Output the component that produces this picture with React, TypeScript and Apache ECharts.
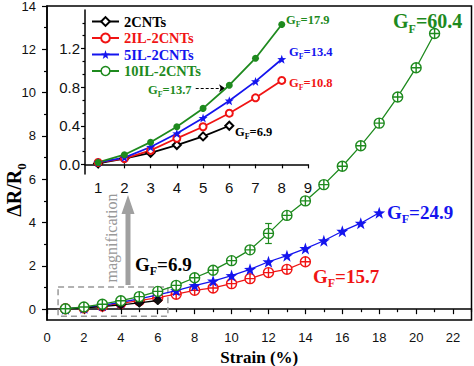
import React, { useEffect, useRef } from "react";
import * as echarts from "echarts";

// ---------- data ----------
const strain = [1, 2, 3, 4, 5, 6, 7, 8, 9, 10, 11, 12, 13, 14, 15, 16, 17, 18, 19, 20, 21];
const seriesNames = ["2CNTs", "2IL-2CNTs", "5IL-2CNTs", "10IL-2CNTs"];
const cnt2 = [0.01, 0.06, 0.12, 0.2, 0.29, 0.4];
const il2 = [0.02, 0.06, 0.145, 0.27, 0.39, 0.53, 0.69, 0.87, 0.98, 1.18, 1.41, 1.69, 1.84, 2.19];
const il5 = [0.02, 0.07, 0.18, 0.32, 0.48, 0.66, 0.86, 1.09, 1.3, 1.55, 1.84, 2.19, 2.47, 2.8, 3.16, 3.6, 3.97, 4.45];
const il10 = [0.02, 0.1, 0.23, 0.39, 0.58, 0.82, 1.1, 1.45, 1.8, 2.24, 2.74, 3.5, 4.33, 5.0, 5.75, 6.6, 7.55, 8.59, 9.8, 11.15, 12.73];
const insetMaxStrain = 8;
// error bar on 10IL-2CNTs at 12 %
const errStrain = [12];
const errLow = [3.05];
const errHigh = [3.95];

// tick values
const xMainMajor = [0, 2, 4, 6, 8, 10, 12, 14, 16, 18, 20, 22];
const xMainMinor = [1, 3, 5, 7, 9, 11, 13, 15, 17, 19, 21, 23];
const yMainMajor = [0, 2, 4, 6, 8, 10, 12, 14];
const yMainMinor = [1, 3, 5, 7, 9, 11, 13];
const xInsetMajor = [1, 2, 3, 4, 5, 6, 7, 8, 9];
const yInsetMajor = [0, 0.4, 0.8, 1.2];
const yInsetMinor = [0.1333, 0.2667, 0.5333, 0.6667, 0.9333, 1.0667, 1.3333, 1.4667];

// gauge factor labels
const gfMain = ["6.9", "15.7", "24.9", "60.4"];
const gfInset = ["6.9", "10.8", "13.4", "17.9", "13.7"];

const COLORS = ["#000000", "#f01414", "#1414ee", "#1e8a1e"];
const SERIF = "'Liberation Serif', 'Times New Roman', serif";
const SANS = "'Liberation Sans', Arial, sans-serif";

const STAR = "path://M0,-10 L2.35,-3.24 L9.51,-3.09 L3.8,1.24 L5.88,8.09 L0,4 L-5.88,8.09 L-3.8,1.24 L-9.51,-3.09 L-2.35,-3.24 Z";
const CIRCLE_PLUS = "path://M10,0 A10,10 0 1,1 -10,0 A10,10 0 1,1 10,0 Z M0,-10 L0,10 M-10,0 L10,0";

const pairs = (vals: number[], maxX = Infinity) =>
  vals.map((v, i) => [strain[i], v]).filter((p) => p[0] <= maxX);

function gfText(x: number, y: number, val: string, color: string, size: number) {
  return {
    type: "text",
    x,
    y,
    z: 100,
    style: {
      text: `{g|G}{s|F}{g|=${val}}`,
      align: "left",
      verticalAlign: "middle",
      rich: {
        g: { fontSize: size, fontFamily: SERIF, fontWeight: "bold", fill: color },
        s: { fontSize: Math.round(size * 0.62), fontFamily: SERIF, fontWeight: "bold", fill: color, padding: [Math.round(size * 0.75), 0, 0, 0] },
      },
    },
  };
}

export default function App() {
  const ref = useRef<HTMLDivElement>(null);
  useEffect(() => {
    if (!ref.current) return;
    const chart = echarts.init(ref.current, undefined, { renderer: "svg" });
    const axisLine = { show: true, lineStyle: { color: "#000", width: 1.5 } };
    const tickStyle = { color: "#000", width: 1.2 };

    const insetSeries = [cnt2, il2, il5, il10].map((vals, i) => ({
      type: "line",
      name: seriesNames[i],
      xAxisIndex: 2,
      yAxisIndex: 2,
      data: pairs(vals, insetMaxStrain),
      symbol: ["emptyDiamond", "emptyCircle", STAR, "circle"][i],
      symbolSize: [8, 7, 9, 7][i],
      itemStyle: { color: COLORS[i] },
      lineStyle: { color: COLORS[i], width: 1.8 },
      z: 10,
      ...(i === 3
        ? {
            markLine: {
              silent: true,
              symbol: ["none", "arrow"],
              symbolSize: 6,
              label: { show: false },
              lineStyle: { color: "#000", width: 1, type: [3, 2] },
              data: [[{ coord: [4.72, 0.79] }, { coord: [5.84, 0.79] }]],
            },
          }
        : {}),
    }));

    const mainSymbols = ["diamond", CIRCLE_PLUS, STAR, CIRCLE_PLUS];
    const mainSizes = [9, 10, 12, 10];
    const mainItem = [
      { color: "#111", borderColor: "#000", borderWidth: 0.8 },
      { color: "#fff", borderColor: COLORS[1], borderWidth: 1.4 },
      { color: COLORS[2] },
      { color: "#fff", borderColor: COLORS[3], borderWidth: 1.4 },
    ];
    const mainSeries = [cnt2, il2, il5, il10].map((vals, i) => ({
      type: "line",
      name: seriesNames[i],
      xAxisIndex: 0,
      yAxisIndex: 0,
      data: pairs(vals),
      symbol: mainSymbols[i],
      symbolSize: mainSizes[i],
      itemStyle: mainItem[i],
      lineStyle: { color: COLORS[i], width: 1.3 },
      z: [5, 3, 4, 6][i],
      ...(i === 0
        ? {
            markArea: {
              silent: true,
              label: { show: false },
              itemStyle: { color: "rgba(0,0,0,0)", borderColor: "#999", borderWidth: 1.5, borderType: [6, 4] },
              data: [[{ coord: [0.6, 1.02] }, { coord: [6.55, -0.33] }]],
            },
          }
        : {}),
      ...(i === 3
        ? {
            markLine: {
              silent: true,
              symbol: "none",
              label: { show: false },
              lineStyle: { color: COLORS[3], width: 1.2, type: "solid" },
              data: errStrain.flatMap((s, k) => [
                [{ coord: [s, errLow[k]] }, { coord: [s, errHigh[k]] }],
                [{ coord: [s - 0.18, errLow[k]] }, { coord: [s + 0.18, errLow[k]] }],
                [{ coord: [s - 0.18, errHigh[k]] }, { coord: [s + 0.18, errHigh[k]] }],
              ]),
            },
          }
        : {}),
    }));

    const option: any = {
      animation: false,
      backgroundColor: "#fff",
      grid: [
        { left: 47, right: 2.5, top: 6, bottom: 46, show: true, borderColor: "#000", borderWidth: 1.5, backgroundColor: "transparent", outerBoundsMode: "none" },
        { left: 85, right: 166, top: 10, bottom: 192, outerBoundsMode: "none" },
      ],
      legend: {
        left: 86,
        top: 9,
        orient: "vertical",
        itemWidth: 27,
        itemHeight: 11,
        itemGap: 1.5,
        selectedMode: false,
        textStyle: { fontFamily: SERIF, fontWeight: "bold", fontSize: 14.5 },
        data: seriesNames.map((n, i) => ({
          name: n,
          textStyle: { color: COLORS[i], fontFamily: SERIF, fontWeight: "bold", fontSize: 14.5 },
          ...(i === 3 ? { itemStyle: { color: "#fff", borderColor: COLORS[3], borderWidth: 1.5 } } : {}),
        })),
      },
      xAxis: [
        {
          gridIndex: 0,
          type: "value",
          min: 0,
          max: 23,
          position: "bottom",
          axisLine,
          axisTick: { show: true, customValues: xMainMajor, length: 5, lineStyle: tickStyle },
          axisLabel: { customValues: xMainMajor, margin: 11, fontSize: 13, color: "#111", fontFamily: SANS },
          splitLine: { show: false },
          name: "Strain (%)",
          nameLocation: "middle",
          nameGap: 21,
          nameTextStyle: { fontFamily: SERIF, fontWeight: "bold", fontSize: 17, color: "#000" },
        },
        {
          gridIndex: 0,
          type: "value",
          min: 0,
          max: 23,
          position: "bottom",
          axisLine: { show: false },
          axisTick: { show: true, customValues: xMainMinor, length: 3, lineStyle: tickStyle },
          axisLabel: { show: false },
          splitLine: { show: false },
        },
        {
          gridIndex: 1,
          type: "value",
          min: 0.5,
          max: 9,
          position: "bottom",
          axisLine,
          axisTick: { show: true, customValues: xInsetMajor, length: 4, lineStyle: tickStyle },
          axisLabel: { customValues: xInsetMajor, margin: 6, fontSize: 15, color: "#111", fontFamily: SANS },
          splitLine: { show: false },
        },
      ],
      yAxis: [
        {
          gridIndex: 0,
          type: "value",
          min: -0.5,
          max: 14,
          position: "left",
          axisLine,
          axisTick: { show: true, customValues: yMainMajor, length: 5, lineStyle: tickStyle },
          axisLabel: { customValues: yMainMajor, margin: 11, fontSize: 13, color: "#111", fontFamily: SANS },
          splitLine: { show: false },
        },
        {
          gridIndex: 0,
          type: "value",
          min: -0.5,
          max: 14,
          position: "left",
          axisLine: { show: false },
          axisTick: { show: true, customValues: yMainMinor, length: 3, lineStyle: tickStyle },
          axisLabel: { show: false },
          splitLine: { show: false },
        },
        {
          gridIndex: 1,
          type: "value",
          min: -0.1,
          max: 1.6,
          position: "left",
          axisLine,
          axisTick: { show: true, customValues: yInsetMajor, length: 4, lineStyle: tickStyle },
          axisLabel: {
            customValues: yInsetMajor,
            margin: 5,
            fontSize: 15,
            color: "#111",
            fontFamily: SANS,
            formatter: (v: number) => v.toFixed(1),
          },
          splitLine: { show: false },
        },
        {
          gridIndex: 1,
          type: "value",
          min: -0.1,
          max: 1.6,
          position: "left",
          axisLine: { show: false },
          axisTick: { show: true, customValues: yInsetMinor, length: 2.5, lineStyle: tickStyle },
          axisLabel: { show: false },
          splitLine: { show: false },
        },
      ],
      series: [...insetSeries, ...mainSeries],
      graphic: [
        {
          type: "text",
          x: 14,
          y: 190,
          rotation: Math.PI / 2,
          style: {
            text: "{a|ΔR/R}{s|0}",
            align: "center",
            verticalAlign: "middle",
            rich: {
              a: { fontSize: 20, fontFamily: SERIF, fontWeight: "bold", fill: "#000" },
              s: { fontSize: 13, fontFamily: SERIF, fontWeight: "bold", fill: "#000", padding: [14, 0, 0, 0] },
            },
          },
        },
        {
          type: "text",
          x: 111,
          y: 238,
          rotation: Math.PI / 2,
          style: {
            text: "magnification",
            align: "center",
            verticalAlign: "middle",
            fontFamily: SERIF,
            fontSize: 16,
            fill: "#999",
          },
        },
        {
          type: "polygon",
          shape: {
            points: [
              [125.5, 285],
              [130.5, 285],
              [130.5, 214],
              [134.5, 214],
              [128, 195],
              [121.5, 214],
              [125.5, 214],
            ],
          },
          style: { fill: "#a0a0a0" },
        },
        gfText(135, 264, gfMain[0], COLORS[0], 19),
        gfText(313, 276, gfMain[1], COLORS[1], 19),
        gfText(387, 212, gfMain[2], COLORS[2], 19),
        gfText(393, 21, gfMain[3], COLORS[3], 20),
        gfText(235, 132, gfInset[0], COLORS[0], 12.5),
        gfText(289, 83, gfInset[1], COLORS[1], 12.5),
        gfText(289, 52, gfInset[2], COLORS[2], 12.5),
        gfText(286, 20, gfInset[3], COLORS[3], 12.5),
        gfText(148, 90, gfInset[4], COLORS[3], 12.5),
      ],
    };
    chart.setOption(option);
    return () => chart.dispose();
  }, []);
  return <div ref={ref} style={{ width: 474, height: 366, position: "absolute", left: 0, top: 0 }} />;
}
